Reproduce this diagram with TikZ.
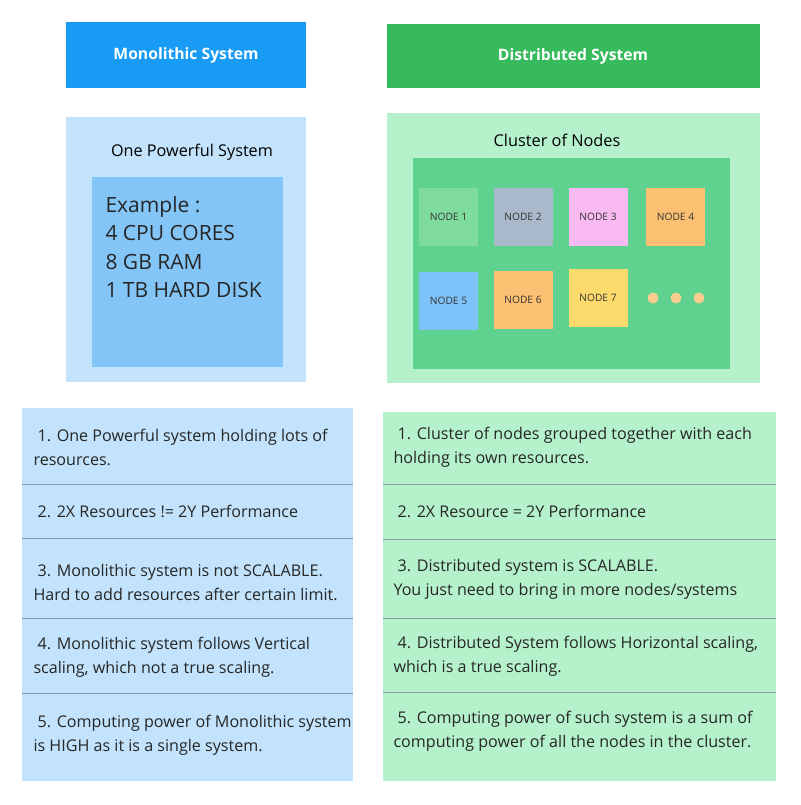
\documentclass[tikz,border=0pt]{standalone}
\usepackage{fontspec}
\setmainfont{Open Sans}
\usetikzlibrary{positioning}
\definecolor{monoblue}{HTML}{189BF5}
\definecolor{distgreen}{HTML}{36BA5C}
\definecolor{lightblue}{HTML}{C2E3FB}
\definecolor{midblue}{HTML}{84C5F8}
\definecolor{lightgreen}{HTML}{B5F2CC}
\definecolor{midgreen}{HTML}{5FD290}
\definecolor{nodegreen}{HTML}{80DC9E}
\definecolor{nodegray}{HTML}{A9B8CB}
\definecolor{nodepink}{HTML}{F9BAF2}
\definecolor{nodeorange}{HTML}{FBC072}
\definecolor{nodeblue}{HTML}{7DC3F9}
\definecolor{nodeyellow}{HTML}{FDDA6C}
\definecolor{sepgray}{HTML}{8E9AA3}
\begin{document}
\begin{tikzpicture}[x=1pt,y=-1pt,
 header/.style={font=\fontsize{15.7}{18}\selectfont\bfseries, text=white},
 clusternode/.style={minimum width=59pt, minimum height=58pt, font=\fontsize{10.2}{12}\selectfont, text=black!80},
 point/.style={font=\fontsize{16.1}{24}\selectfont, anchor=west, align=left, text=black!85},
 sep/.style={sepgray, line width=0.8pt}]
 \useasboundingbox (0,0) rectangle (800,805);
 % headers
 \fill[monoblue] (66,22) rectangle (306,88);
 \node[header] (mono) at (186,55) {Monolithic System};
 \fill[distgreen] (387,24) rectangle (760,88);
 \node[header] (dist) at (573,56) {Distributed System};
 % monolithic system
 \fill[lightblue] (66,117) rectangle (306,382);
 \node[font=\fontsize{16.2}{19}\selectfont] (one) at (192,152) {One Powerful System};
 \fill[midblue] (92,177) rectangle (283,367);
 \node[anchor=north west, align=left, font=\fontsize{21}{28.5}\selectfont, text=black!85] (spec) at (102,193)
  {Example :\\4 CPU CORES\\8 GB RAM\\1 TB HARD DISK};
 % distributed system
 \fill[lightgreen] (387,113) rectangle (760,383);
 \node[font=\fontsize{16.3}{19}\selectfont] (cluster) at (557,140) {Cluster of Nodes};
 \fill[midgreen] (413,158) rectangle (730,369);
 \node[clusternode, fill=nodegreen] (n1) at (448.5,217) {NODE 1};
 \node[clusternode, fill=nodegray] (n2) at (523,217) {NODE 2};
 \node[clusternode, fill=nodepink] (n3) at (598,217) {NODE 3};
 \node[clusternode, fill=nodeorange] (n4) at (675.5,217) {NODE 4};
 \node[clusternode, fill=nodeblue] (n5) at (448.5,301) {NODE 5};
 \node[clusternode, fill=nodeorange] (n6) at (523,300) {NODE 6};
 \node[clusternode, fill=nodeyellow] (n7) at (598,298) {NODE 7};
 \foreach \x in {653,676,699}
  \fill[nodeorange!80!white] (\x,298) circle (5.5);
 % left list
 \fill[lightblue] (22,408) rectangle (353,781);
 \foreach \y in {484,538,618,693}
  \draw[sep] (22,\y) -- (353,\y);
 \node[point] (l1) at (30,447) {\ 1. One Powerful system holding lots of\\resources.};
 \node[point] (l2) at (30,511) {\ 2. 2X Resources != 2Y Performance};
 \node[point] (l3) at (30,582) {\ 3. Monolithic system is not SCALABLE.\\Hard to add resources after certain limit.};
 \node[point] (l4) at (30,657) {\ 4. Monolithic system follows Vertical\\scaling, which not a true scaling.};
 \node[point] (l5) at (30,735) {\ 5. Computing power of Monolithic system\\is HIGH as it is a single system.};
 % right list
 \fill[lightgreen] (383,412) rectangle (776,781);
 \foreach \y in {484,539,618,692}
  \draw[sep] (383,\y) -- (776,\y);
 \node[point] (r1) at (390,447) {\ 1. Cluster of nodes grouped together with each\\holding its own resources.};
 \node[point] (r2) at (390,511) {\ 2. 2X Resource = 2Y Performance};
 \node[point] (r3) at (390,579) {\ 3. Distributed system is SCALABLE.\\You just need to bring in more nodes/systems};
 \node[point] (r4) at (390,656) {\ 4. Distributed System follows Horizontal scaling,\\which is a true scaling.};
 \node[point] (r5) at (390,731) {\ 5. Computing power of such system is a sum of\\computing power of all the nodes in the cluster.};
\end{tikzpicture}
\end{document}
